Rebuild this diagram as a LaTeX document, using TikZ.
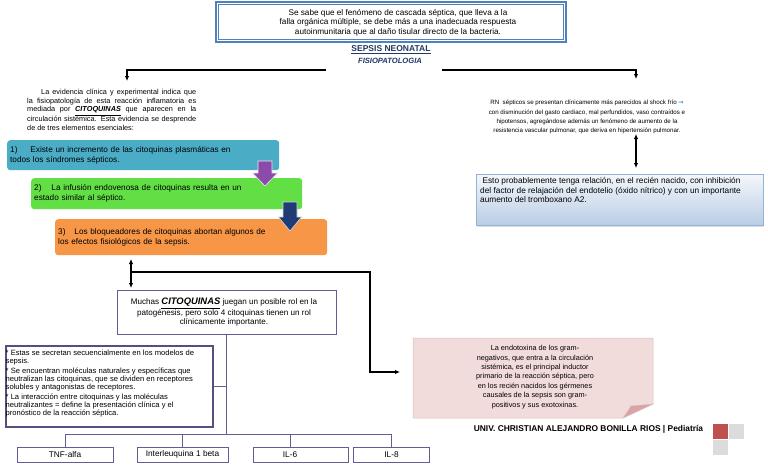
\documentclass[tikz,border=0pt]{standalone}
\usepackage{fontspec}
\setmainfont{Liberation Sans}
\newfontfamily\dejavu{DejaVu Sans}
\usetikzlibrary{arrows.meta,shadows}
\definecolor{topblue}{HTML}{4F81BD}
\definecolor{titleblue}{HTML}{1F3864}
\definecolor{tealbox}{HTML}{4BACC6}
\definecolor{greenbox}{HTML}{62DF45}
\definecolor{orangebox}{HTML}{F79646}
\definecolor{purplearrow}{HTML}{8B4BAA}
\definecolor{navyarrow}{HTML}{1F3C74}
\definecolor{purpleline}{HTML}{6A5A94}
\definecolor{pinkbox}{HTML}{F2DCDB}
\definecolor{pinkedge}{HTML}{D9BFC0}
\definecolor{pinkfold}{HTML}{D9A3A8}
\definecolor{gradtop}{HTML}{F4F7FB}
\definecolor{gradbot}{HTML}{B9CDE5}
\definecolor{gradedge}{HTML}{95B3D7}
\definecolor{redsq}{HTML}{C0504D}
\definecolor{graysq}{HTML}{DCDCDC}
\definecolor{arrowblue}{HTML}{3C8FD8}
\newcommand{\fs}[2]{\fontsize{#1}{#2}\selectfont}
\newcommand{\citoq}{\underline{\textbf{\textit{CITOQUINAS}}}}
\tikzset{
  conn/.style={line width=1.3pt, black},
  tip/.style={-{Latex[length=5pt,width=4.5pt]}},
  dtip/.style={{Latex[length=5pt,width=4.5pt]}-{Latex[length=5pt,width=4.5pt]}},
  stepbox/.style={rounded corners=3pt, anchor=north west, inner xsep=3pt, align=left, font=\fs{8.2}{9.8}},
  treeline/.style={line width=0.9pt, purpleline},
  leafbox/.style={draw=purpleline, line width=1.1pt, minimum height=15pt, anchor=north west, inner sep=0pt},
  leaftext/.style={font=\fs{8.3}{9}},
}
\begin{document}
\begin{tikzpicture}[x=1pt,y=-1pt]
\useasboundingbox[fill=white] (0,0) rectangle (768,466);

% top box
\node[draw=topblue, line width=2pt, fill=white, minimum width=350pt, minimum height=40pt, inner sep=0pt] (top) at (391,22) {};
\draw[topblue, line width=0.7pt] ([shift={(3.5pt,-3.5pt)}]top.north west) rectangle ([shift={(-3.5pt,3.5pt)}]top.south east);
\node[align=center, font=\fs{8.2}{9.5}] (toptext) at (398,22.5) {Se sabe que el fenómeno de cascada séptica, que lleva a la\\falla orgánica múltiple, se debe más a una inadecuada respuesta\\autoinmunitaria que al daño tisular directo de la bacteria.};

% title
\node[font=\fs{8.5}{10}\bfseries, text=titleblue, inner sep=0pt] (title) at (391,50) {\underline{SEPSIS NEONATAL}};
\node[font=\fs{7.6}{8}\bfseries\itshape, text=titleblue, inner sep=0pt] (subtitle) at (390,61) {FISIOPATOLOGIA};

% left paragraph
\node[anchor=north west, text width=169pt, align=justify, inner sep=0pt, font=\fs{7.3}{8.7}] (para) at (27,89) {\hyphenpenalty=10000\hspace*{14pt}La evidencia clínica y experimental indica que\linebreak la fisiopatología de esta reacción inflamatoria es\linebreak mediada por \citoq{} que aparecen en la\linebreak circulación sistémica. Esta evidencia se desprende\linebreak de de tres elementos esenciales:};

% top connectors
\coordinate (tl) at (326,70);
\coordinate (tr) at (442,70);
\coordinate (ldrop) at (127,81);
\coordinate (rdrop) at (636,79);
\draw[conn, tip] (tl) -| (ldrop);
\draw[conn, tip] (tr) -| (rdrop);

% step boxes
\node[stepbox, fill=tealbox, minimum width=272pt, minimum height=30pt, text width=266pt] (b1) at (7,140) {1)\hspace{13pt}Existe un incremento de las citoquinas plasmáticas en\\todos los síndromes sépticos.};
\node[stepbox, fill=greenbox, minimum width=271pt, minimum height=31pt, text width=265pt] (b2) at (31,178) {2)\hspace{10pt}La infusión endovenosa de citoquinas resulta en un\\estado similar al séptico.};
\node[stepbox, fill=orangebox, minimum width=272pt, minimum height=36pt, text width=266pt] (b3) at (55,219) {3)\hspace{9pt}Los bloqueadores de citoquinas abortan algunos de\\los efectos fisiológicos de la sepsis.};

% block arrows
\filldraw[fill=purplearrow, draw=white!85!purplearrow, line width=0.6pt] (258,161)--(272,161)--(272,173)--(277.5,173)--(265,186)--(252.5,173)--(258,173)--cycle;
\filldraw[fill=navyarrow, draw=white!80!navyarrow, line width=0.6pt] (283,202)--(297,202)--(297,217)--(301.5,217)--(290,231)--(278.5,217)--(283,217)--cycle;

% right text
\node[align=center, font=\fs{6.2}{9.2}] (rtext) at (587,117) {RN\ \ sépticos se presentan clínicamente más parecidos al shock frío {\dejavu\bfseries\textcolor{arrowblue}{→}}\\con disminución del gasto cardiaco, mal perfundidos, vaso contraídos e\\hipotensos, agregándose además un fenómeno de aumento de la\\resistencia vascular pulmonar, que deriva en hipertensión pulmonar.};
\coordinate (rd1) at (636,134);
\coordinate (rd2) at (636,168);
\draw[conn, dtip] (rd1) -- (rd2);

% gradient box
\node[anchor=north west, draw=gradedge, line width=0.5pt, top color=gradtop, bottom color=gradbot, minimum width=287pt, minimum height=51pt, drop shadow={shadow xshift=1pt, shadow yshift=-1.5pt, opacity=0.25}] (gbox) at (476,174) {};
\node[anchor=north west, align=left, inner sep=0pt, font=\fs{8.3}{9.7}] (gtext) at (480,177) {\ Esto probablemente tenga relación, en el recién nacido, con inhibición\\del factor de relajación del endotelio (óxido nítrico) y con un importante\\aumento del tromboxano A2.};

% Muchas box
\node[draw=purpleline, line width=1.2pt, fill=white, minimum width=219pt, minimum height=44pt, anchor=north west] (much) at (117,290) {};
\node[align=center, font=\fs{8.1}{9.2}, inner sep=0pt] (muchtext) at (224,312.5) {Muchas {\fs{9.4}{9}\citoq} juegan un posible rol en la\\patogénesis, pero solo 4 citoquinas tienen un rol\\clínicamente importante.};

% double arrow and route to pink box
\coordinate (ld1) at (131,259);
\coordinate (ld2) at (131,288);
\draw[conn, dtip] (ld1) -- (ld2);
\coordinate (lj) at (131,272);
\coordinate (pe) at (400,372);
\draw[conn, tip] (lj) -- (370,272) |- (pe);

% left list box
\node[draw=purpleline!85!black, line width=1.6pt, fill=white, minimum width=207pt, minimum height=81pt, anchor=north west] (lbox) at (5,345) {};
\node[anchor=north west, align=left, inner sep=0pt, font=\fs{7.6}{8}] (ltext) at (5.5,349.5) {* Estas se secretan secuencialmente en los modelos de\\sepsis.\\[2pt]* Se encuentran moléculas naturales y específicas que\\neutralizan las citoquinas, que se dividen en receptores\\solubles y antagonistas de receptores.\\[2.5pt]* La interacción entre citoquinas y las moléculas\\neutralizantes = define la presentación clínica y el\\pronóstico de la reacción séptica.};

% tree
\coordinate (bus) at (226,434);
\draw[treeline] (much.south -| bus) -- (bus);
\draw[treeline] (lbox.east |- 0,386) -- (226,386);
\node[leafbox, minimum width=96pt] (l1) at (17,447) {};
\node[leafbox, minimum width=91pt] (l2) at (137,447) {};
\node[leafbox, minimum width=95pt] (l3) at (253,447) {};
\node[leafbox, minimum width=76pt] (l4) at (353,447) {};
\node[leaftext] (t1) at (65,454.5) {TNF-alfa};
\node[leaftext] (t2) at (182.5,454.5) {Interleuquina 1 beta};
\node[leaftext] (t3) at (290,454.5) {IL-6};
\node[leaftext] (t4) at (391.5,454.5) {IL-8};
\draw[treeline] (t1 |- bus) -- (t4 |- bus);
\draw[treeline] (t1 |- bus) -- (t1 |- l1.north);
\draw[treeline] (t2 |- bus) -- (t2 |- l2.north);
\draw[treeline] (t3 |- bus) -- (t3 |- l3.north);
\draw[treeline] (t4 |- bus) -- (t4 |- l4.north);

% pink callout
\filldraw[fill=pinkbox, draw=pinkedge, line width=0.5pt] (413,338) -- (653,338) -- (653,404) -- (623,418) -- (413,418) -- cycle;
\filldraw[fill=pinkfold, draw=pinkedge, line width=0.4pt] (653,404) -- (623,418) -- (631,406) -- cycle;
\node[align=center, font=\fs{7.3}{9.4}] (ptext) at (535,377) {La endotoxina de los gram-\\negativos, que entra a la circulación\\sistémica, es el principal inductor\\primario de la reacción séptica, pero\\en los recién nacidos los gérmenes\\causales de la sepsis son gram-\\positivos y sus exotoxinas.};

% footer
\node[font=\fs{8.4}{9}\bfseries] (footer) at (588.5,429.5) {UNIV. CHRISTIAN ALEJANDRO BONILLA RIOS | Pediatría};
\fill[redsq] (713,424) rectangle (728,439);
\fill[graysq] (729,424) rectangle (744,439);
\fill[graysq] (713,440) rectangle (728,455);
\end{tikzpicture}
\end{document}
